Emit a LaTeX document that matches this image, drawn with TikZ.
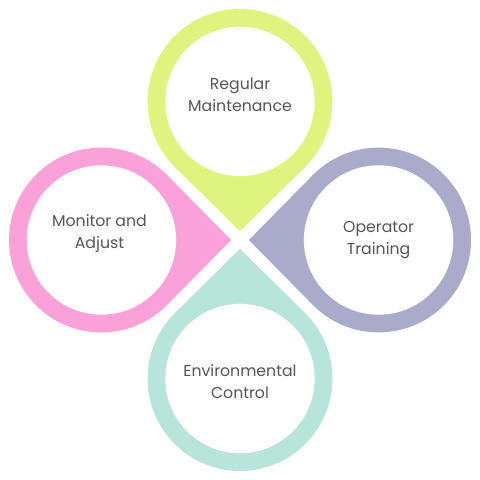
\documentclass[tikz,border=0pt]{standalone}
\usepackage{fontspec}
\setmainfont{Poppins}
\definecolor{dropLime}{HTML}{DEF47E}
\definecolor{dropPink}{HTML}{F9A1D8}
\definecolor{dropLilac}{HTML}{AAABCB}
\definecolor{dropMint}{HTML}{B7E5DA}
\definecolor{dropInk}{HTML}{5C5353}

\begin{document}
\begin{tikzpicture}[x=1pt,y=-1pt,line join=round]
\path[fill=white] (0,0) rectangle (480,475);
\tikzset{drop/.style={shift={#1}},hole/.style={fill=white},label/.style={align=center,text=dropInk,font=\fontsize{16}{22.5}\selectfont}}
% top drop, tip down
\fill[dropLime,drop={(240,97)}] (90:132) -- (135:94) arc[start angle=135,end angle=405,radius=94] -- cycle;
\fill[hole] (240,97) circle (76);
\node[label] (maint) at (240,90.5) {Regular\\Maintenance};
% right drop, tip left
\fill[dropLilac,drop={(381,238)}] (180:132) -- (225:94) arc[start angle=225,end angle=495,radius=94] -- cycle;
\fill[hole] (381,238) circle (76);
\node[label] (train) at (381,238) {Operator\\Training};
% bottom drop, tip up
\fill[dropMint,drop={(240,379)}] (270:132) -- (315:94) arc[start angle=315,end angle=585,radius=94] -- cycle;
\fill[hole] (240,379) circle (76);
\node[label] (envir) at (240,382) {Environmental\\Control};
% left drop, tip right
\fill[dropPink,drop={(99,238)}] (0:132) -- (45:94) arc[start angle=45,end angle=315,radius=94] -- cycle;
\fill[hole] (99,238) circle (76);
\node[label] (monit) at (97,231) {Monitor and\\Adjust};
\end{tikzpicture}
\end{document}
